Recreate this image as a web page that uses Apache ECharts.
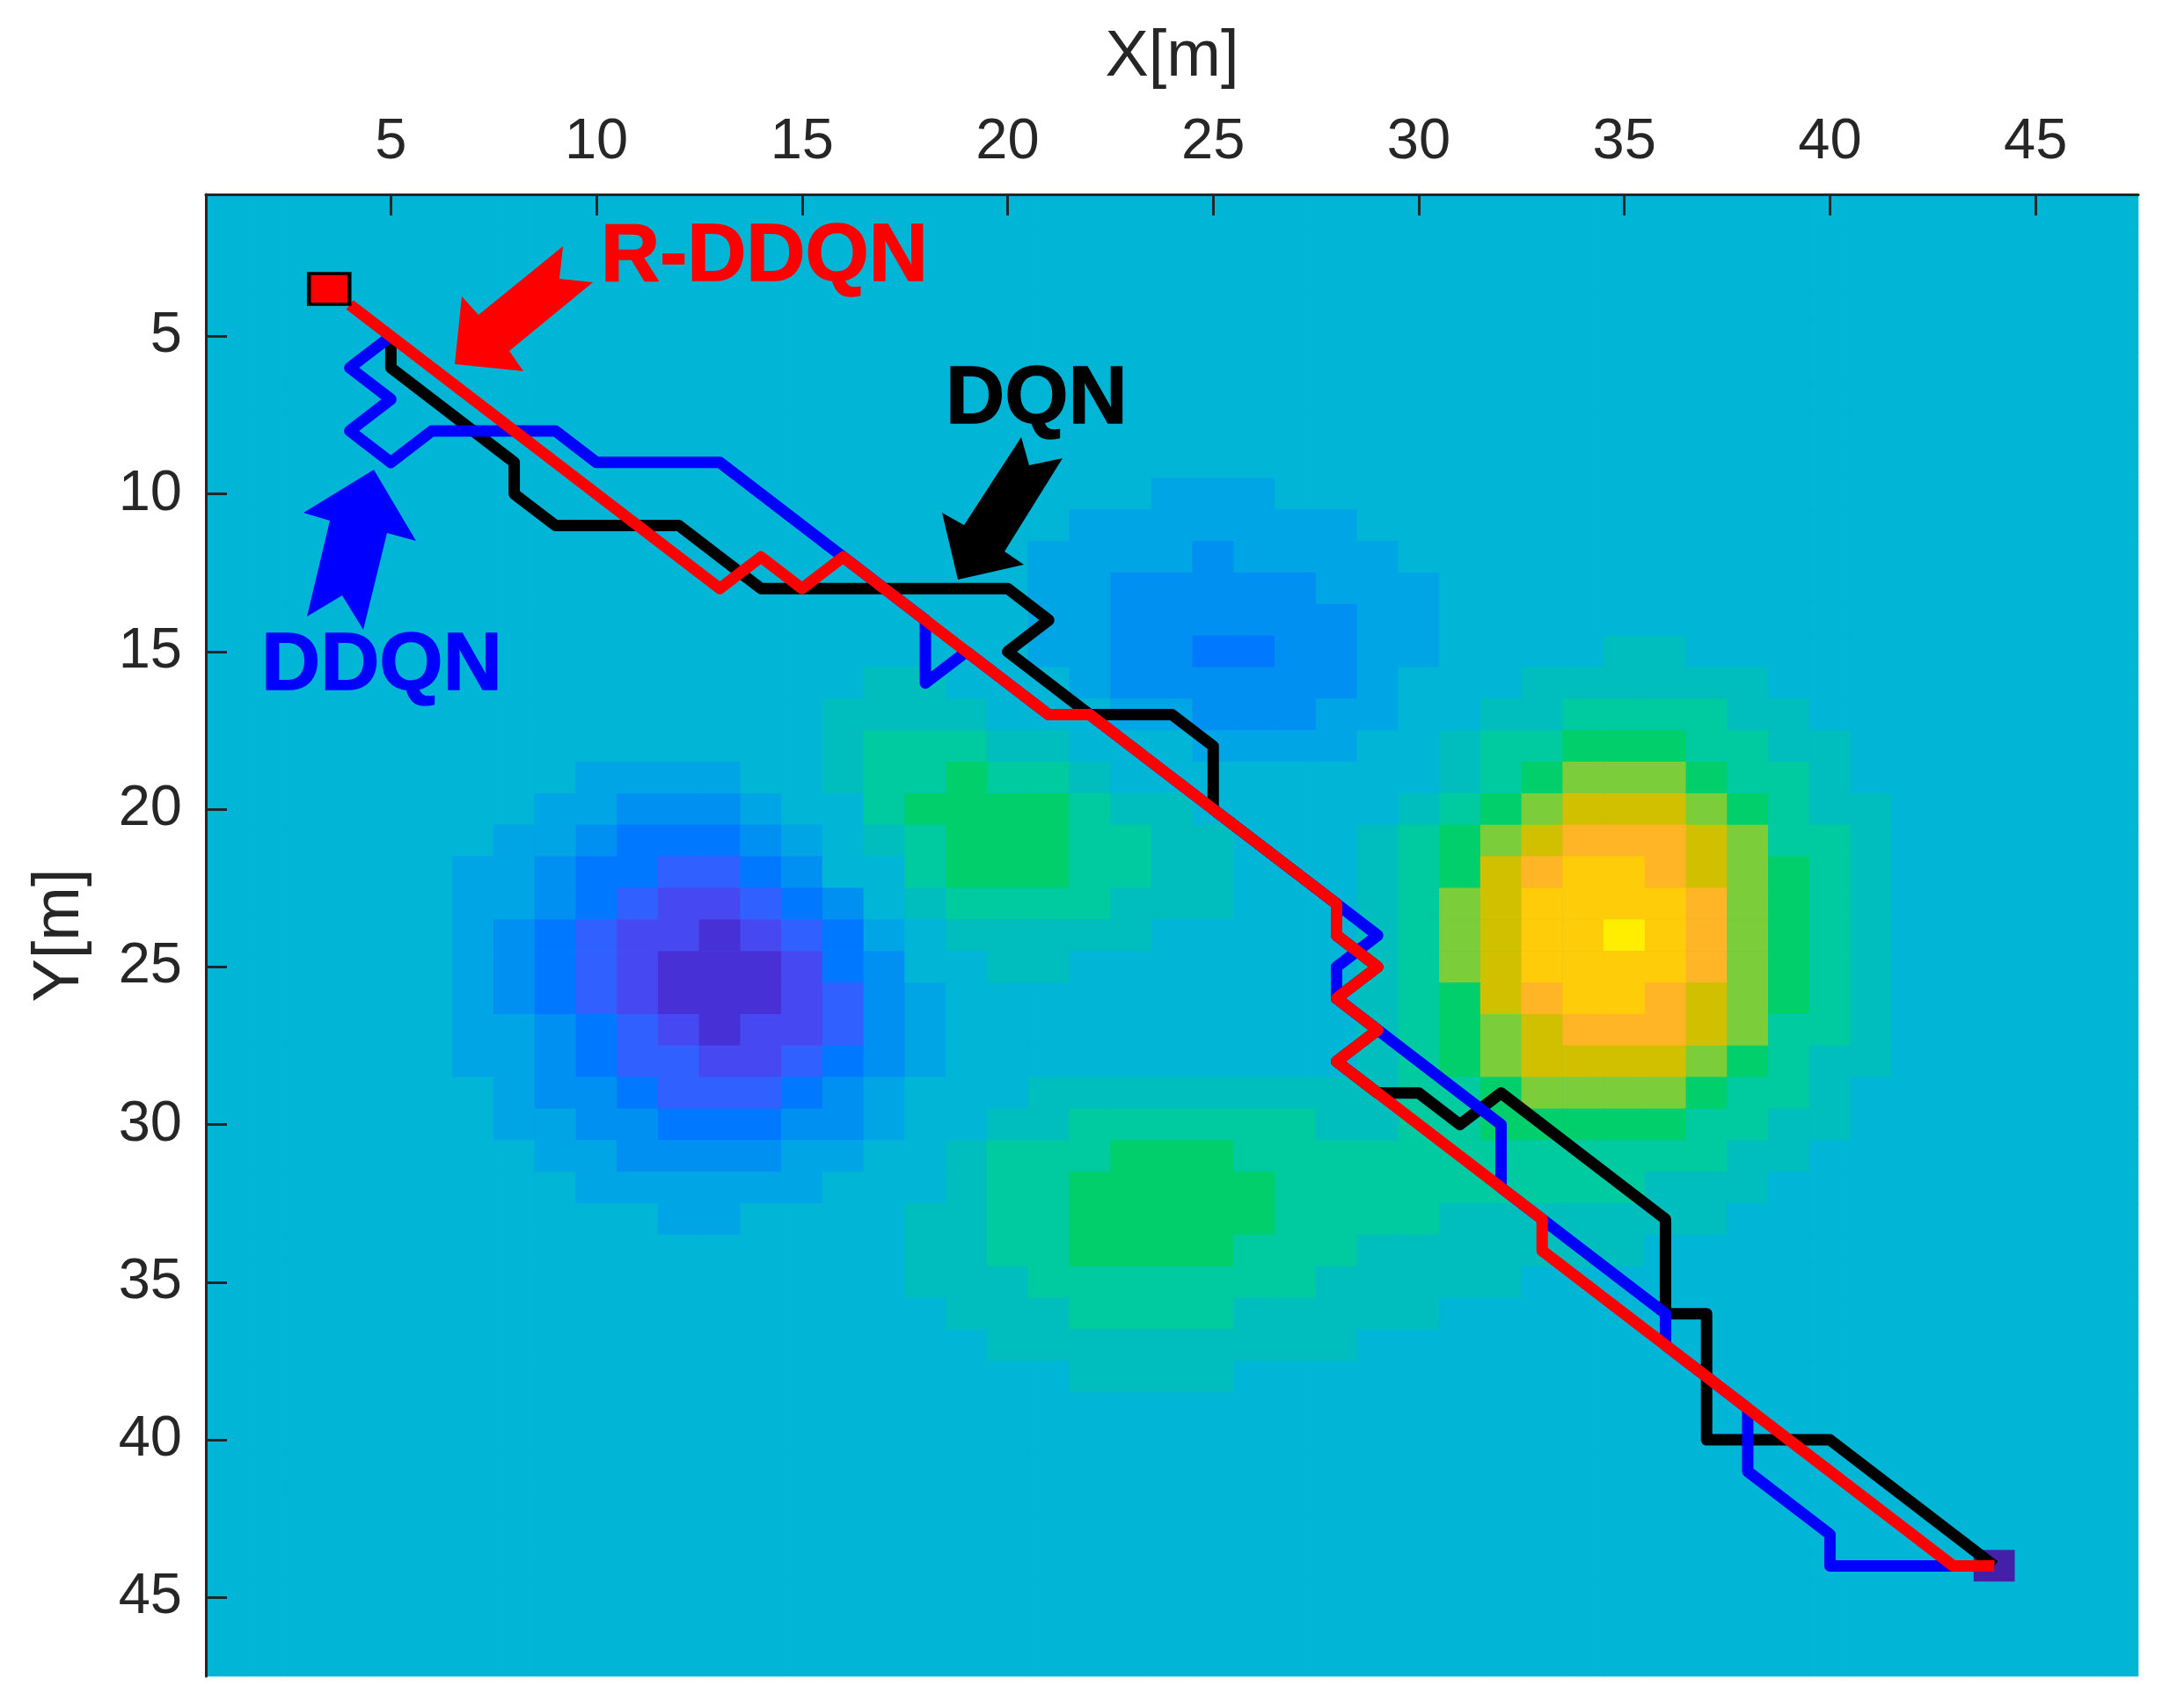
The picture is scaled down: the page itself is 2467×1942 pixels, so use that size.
<!DOCTYPE html>
<html lang="en">

<head>
    <meta charset="UTF-8" />
    <title>Path planning on the field map</title>
    <script src="https://cdn.jsdelivr.net/npm/echarts@6/dist/echarts.min.js"></script>
    <style>
        html, body { margin: 0; padding: 0; background: #fff; }
        #lienzo { width: 2467px; height: 1942px; }
    </style>
</head>

<body>
    <div id="lienzo"></div>

    <script>
        // field map, 47 x 47 cells. every run is [row, first col, last col, level], cells not listed are level 0
        const gridSize = 47;
        const tickValues = [5, 10, 15, 20, 25, 30, 35, 40, 45];

        const coldWest = [
            [19,10,13,-1],
            [20,9,10,-1],[20,11,13,-2],[20,14,14,-1],
            [21,8,9,-1],[21,10,10,-2],[21,11,13,-3],[21,14,14,-2],[21,15,15,-1],
            [22,7,8,-1],[22,9,9,-2],[22,10,11,-3],[22,12,13,-4],[22,14,14,-3],[22,15,15,-2],
            [23,7,8,-1],[23,9,9,-2],[23,10,10,-3],[23,11,11,-4],[23,12,13,-5],[23,14,14,-4],[23,15,15,-3],[23,16,16,-2],
            [24,7,7,-1],[24,8,8,-2],[24,9,9,-3],[24,10,10,-4],[24,11,12,-5],[24,13,13,-6],[24,14,14,-5],[24,15,15,-4],[24,16,16,-3],[24,17,17,-1],
            [25,7,7,-1],[25,8,8,-2],[25,9,9,-3],[25,10,10,-4],[25,11,11,-5],[25,12,14,-6],[25,15,15,-5],[25,16,16,-3],[25,17,17,-2],
            [26,7,7,-1],[26,8,8,-2],[26,9,9,-3],[26,10,10,-4],[26,11,11,-5],[26,12,14,-6],[26,15,15,-5],[26,16,16,-4],[26,17,17,-2],[26,18,18,-1],
            [27,7,8,-1],[27,9,9,-2],[27,10,10,-3],[27,11,11,-4],[27,12,12,-5],[27,13,13,-6],[27,14,15,-5],[27,16,16,-4],[27,17,17,-2],[27,18,18,-1],
            [28,7,8,-1],[28,9,9,-2],[28,10,10,-3],[28,11,12,-4],[28,13,14,-5],[28,15,15,-4],[28,16,16,-3],[28,17,17,-2],[28,18,18,-1],
            [29,8,8,-1],[29,9,10,-2],[29,11,11,-3],[29,12,14,-4],[29,15,15,-3],[29,16,16,-2],[29,17,17,-1],
            [30,8,9,-1],[30,10,11,-2],[30,12,14,-3],[30,15,16,-2],[30,17,17,-1],
            [31,9,10,-1],[31,11,14,-2],[31,15,16,-1],
            [32,10,15,-1],
            [33,12,13,-1]
        ];

        const coldNorth = [
            [10,24,26,-1],
            [11,22,28,-1],
            [12,21,24,-1],[12,25,25,-2],[12,26,29,-1],
            [13,21,22,-1],[13,23,27,-2],[13,28,30,-1],
            [14,21,22,-1],[14,23,28,-2],[14,29,30,-1],
            [15,21,22,-1],[15,23,24,-2],[15,25,26,-3],[15,27,28,-2],[15,29,30,-1],
            [16,22,22,-1],[16,23,28,-2],[16,29,29,-1],
            [17,23,24,-1],[17,25,27,-2],[17,28,29,-1],
            [18,25,28,-1]
        ];

        const warmEast = [
            [15,35,36,1],
            [16,33,38,1],
            [17,32,33,1],[17,34,37,2],[17,38,39,1],
            [18,31,31,1],[18,32,33,2],[18,34,36,3],[18,37,38,2],[18,39,40,1],
            [19,31,31,1],[19,32,32,2],[19,33,33,3],[19,34,36,4],[19,37,37,3],[19,38,39,2],[19,40,40,1],
            [20,30,30,1],[20,31,31,2],[20,32,32,3],[20,33,33,4],[20,34,36,5],[20,37,37,4],[20,38,38,3],[20,39,39,2],[20,40,41,1],
            [21,29,29,1],[21,30,30,2],[21,31,31,3],[21,32,32,4],[21,33,33,5],[21,34,36,6],[21,37,37,5],[21,38,38,4],[21,39,40,2],[21,41,41,1],
            [22,29,29,1],[22,30,30,2],[22,31,31,3],[22,32,32,5],[22,33,33,6],[22,34,35,7],[22,36,36,6],[22,37,37,5],[22,38,38,4],[22,39,39,3],[22,40,40,2],[22,41,41,1],
            [23,29,29,1],[23,30,30,2],[23,31,31,4],[23,32,32,5],[23,33,36,7],[23,37,37,6],[23,38,38,4],[23,39,39,3],[23,40,40,2],[23,41,41,1],
            [24,29,29,1],[24,30,30,2],[24,31,31,4],[24,32,32,5],[24,33,34,7],[24,35,35,8],[24,36,36,7],[24,37,37,6],[24,38,38,4],[24,39,39,3],[24,40,40,2],[24,41,41,1],
            [25,29,29,1],[25,30,30,2],[25,31,31,4],[25,32,32,5],[25,33,36,7],[25,37,37,6],[25,38,38,4],[25,39,39,3],[25,40,40,2],[25,41,41,1],
            [26,29,29,1],[26,30,30,2],[26,31,31,3],[26,32,32,5],[26,33,33,6],[26,34,35,7],[26,36,36,6],[26,37,37,5],[26,38,38,4],[26,39,39,3],[26,40,40,2],[26,41,41,1],
            [27,29,29,1],[27,30,30,2],[27,31,31,3],[27,32,32,4],[27,33,33,5],[27,34,36,6],[27,37,37,5],[27,38,38,4],[27,39,40,2],[27,41,41,1],
            [28,29,29,1],[28,30,30,2],[28,31,31,3],[28,32,32,4],[28,33,36,5],[28,37,37,4],[28,38,38,3],[28,39,39,2],[28,40,41,1],
            [29,30,31,2],[29,32,32,3],[29,33,36,4],[29,37,37,3],[29,38,39,2],[29,40,40,1],
            [30,30,31,2],[30,32,36,3],[30,37,38,2],[30,39,40,1],
            [31,38,39,1],
            [32,36,38,1],
            [33,31,37,1],
            [34,29,35,1],
            [35,28,32,1]
        ];

        const warmSouth = [
            [29,21,29,1],
            [30,20,21,1],[30,22,27,2],[30,28,29,1],
            [31,19,19,1],[31,20,22,2],[31,23,25,3],[31,26,37,2],
            [32,19,19,1],[32,20,21,2],[32,22,26,3],[32,27,35,2],
            [33,18,19,1],[33,20,21,2],[33,22,26,3],[33,27,30,2],
            [34,18,19,1],[34,20,21,2],[34,22,25,3],[34,26,28,2],
            [35,18,20,1],[35,21,27,2],
            [36,19,21,1],[36,22,25,2],[36,26,30,1],
            [37,20,28,1],
            [38,22,25,1]
        ];

        const warmNorthWest = [
            [16,17,18,1],
            [17,16,19,1],
            [18,16,16,1],[18,17,19,2],[18,20,21,1],
            [19,16,16,1],[19,17,18,2],[19,19,19,3],[19,20,21,2],[19,22,22,1],
            [20,17,17,2],[20,18,21,3],[20,22,22,2],[20,23,24,1],
            [21,17,17,1],[21,18,18,2],[21,19,21,3],[21,22,23,2],[21,24,25,1],
            [22,18,18,2],[22,19,21,3],[22,22,23,2],[22,24,25,1],
            [23,18,18,1],[23,19,22,2],[23,23,25,1],
            [24,19,23,1],
            [25,20,21,1]
        ];

        const goalCell = [[44,44,44,-7]];

        const levelColors = {
            '-7': '#4420A8', '-6': '#4730D6', '-5': '#4648F2', '-4': '#3060FF',
            '-3': '#0078FF', '-2': '#0090F2', '-1': '#00A5E6', '0': '#00B5D6',
            '1': '#00BDBE', '2': '#00CA9F', '3': '#00CF6C', '4': '#7CCD3A',
            '5': '#D0C000', '6': '#FFB526', '7': '#FFCC0A', '8': '#FFEE00'
        };

        // paths as [x, y] vertices
        const startPoint = [[3.5, 3.5]];
        const dqnPath = [[5,5],[5,6],[8,9],[8,10],[9,11],[12,11],[14,13],[20,13],[21,14],[20,15],[22,17],[24,17],[25,18],[25,20],[28,23],[28,24],[29,25],[28,26],[29,27],[28,28],[29,29],[30,29],[31,30],[32,29],[36,33],[36,36],[37,36],[37,40],[40,40],[44,44]];
        const ddqnPath = [[5,5],[4,6],[5,7],[4,8],[5,9],[6,8],[9,8],[10,9],[13,9],[18,14],[18,16],[19,15],[21,17],[22,17],[28,23],[29,24],[28,25],[28,26],[32,30],[32,32],[36,36],[36,37],[38,39],[38,41],[40,43],[40,44],[44,44]];
        const rddqnPath = [[4,4],[13,13],[14,12],[15,13],[16,12],[21,17],[22,17],[28,23],[28,24],[29,25],[28,26],[29,27],[28,28],[33,33],[33,34],[43,44],[44,44]];

        // build the heatmap cells from the runs
        let field = [];
        for (let r = 0; r < gridSize; r++) {
            field.push(new Array(gridSize).fill(0));
        }
        coldWest.concat(coldNorth, warmEast, warmSouth, warmNorthWest, goalCell).forEach((run) => {
            for (let c = run[1]; c <= run[2]; c++) {
                field[run[0] - 1][c - 1] = run[3];
            }
        });
        let cells = [];
        field.forEach((row, r) => row.forEach((level, c) => cells.push([c, r, level])));
        let cellNames = field.map((row, i) => String(i + 1));

        const axisColor = '#262626';
        const tickFont = { fontFamily: 'Liberation Sans', fontSize: 65, color: axisColor };

        function valueAxisStyle() {
            return {
                type: 'value',
                gridIndex: 0,
                min: 0.5,
                max: 47.5,
                z: 2,
                splitLine: { show: false },
                axisLine: { show: true, onZero: false, lineStyle: { color: axisColor, width: 3 } },
                axisTick: { show: true, inside: true, length: 24, customValues: tickValues, lineStyle: { color: axisColor, width: 3 } },
                nameLocation: 'middle',
                nameTextStyle: { fontFamily: 'Liberation Sans', fontSize: 74, color: axisColor }
            };
        }

        function pathSeries(name, color, path, z) {
            return {
                name: name,
                type: 'line',
                xAxisIndex: 1,
                yAxisIndex: 1,
                data: path,
                showSymbol: false,
                silent: true,
                z: z,
                lineStyle: { color: color, width: 13, cap: 'butt', join: 'round' }
            };
        }

        function arrow(color, points) {
            return { type: 'polygon', z: 100, shape: { points: points }, style: { fill: color } };
        }

        function tag(text, color, x, y) {
            return {
                type: 'text', z: 100, x: x, y: y,
                style: { text: text, fill: color, stroke: color, lineWidth: 1.5, font: 'bold 93px "Liberation Sans"', verticalAlign: 'bottom' }
            };
        }

        let myChart = echarts.init(document.getElementById('lienzo'));
        myChart.setOption({
            animation: false,
            backgroundColor: '#ffffff',
            grid: { show: true, left: 234, top: 221, width: 2197, height: 1685, containLabel: false, backgroundColor: levelColors['0'], borderWidth: 0 },
            xAxis: [
                { type: 'category', data: cellNames, show: false, gridIndex: 0 },
                Object.assign(valueAxisStyle(), {
                    position: 'top',
                    name: 'X[m]',
                    nameGap: 118,
                    axisLabel: Object.assign({ margin: 26, customValues: tickValues }, tickFont)
                })
            ],
            yAxis: [
                { type: 'category', data: cellNames, show: false, inverse: true, gridIndex: 0 },
                Object.assign(valueAxisStyle(), {
                    position: 'left',
                    inverse: true,
                    name: 'Y[m]',
                    nameGap: 128,
                    axisLabel: Object.assign({ margin: 27, padding: [10, 0, 0, 0], customValues: tickValues }, tickFont)
                })
            ],
            visualMap: {
                show: false,
                type: 'piecewise',
                seriesIndex: 0,
                dimension: 2,
                pieces: Object.keys(levelColors).map((k) => ({ value: Number(k), color: levelColors[k] }))
            },
            series: [
                {
                    type: 'heatmap',
                    xAxisIndex: 0,
                    yAxisIndex: 0,
                    data: cells,
                    progressive: 0,
                    silent: true,
                    z: 1
                },
                pathSeries('DQN', '#000000', dqnPath, 3),
                pathSeries('DDQN', '#0000FF', ddqnPath, 4),
                pathSeries('R-DDQN', '#FF0000', rddqnPath, 5),
                {
                    type: 'scatter',
                    xAxisIndex: 1,
                    yAxisIndex: 1,
                    data: startPoint,
                    symbol: 'rect',
                    symbolSize: [46, 35],
                    silent: true,
                    z: 6,
                    itemStyle: { color: '#FF0000', borderColor: '#000000', borderWidth: 4, opacity: 1 }
                }
            ],
            graphic: [
                arrow('#FF0000', [[517,414],[525,337],[544,358],[640,280],[636,317],[674,321],[579,399],[595,422]]),
                arrow('#0000FF', [[425,534],[473,615],[440,606],[413,716],[389,677],[349,701],[375,592],[345,583]]),
                arrow('#000000', [[1089,659],[1164,642],[1142,627],[1208,521],[1170,529],[1161,497],[1096,597],[1071,583]]),
                tag('R-DDQN', '#FF0000', 683, 340),
                tag('DDQN', '#0000FF', 297, 805),
                tag('DQN', '#000000', 1075, 502)
            ]
        });
    </script>
</body>

</html>
